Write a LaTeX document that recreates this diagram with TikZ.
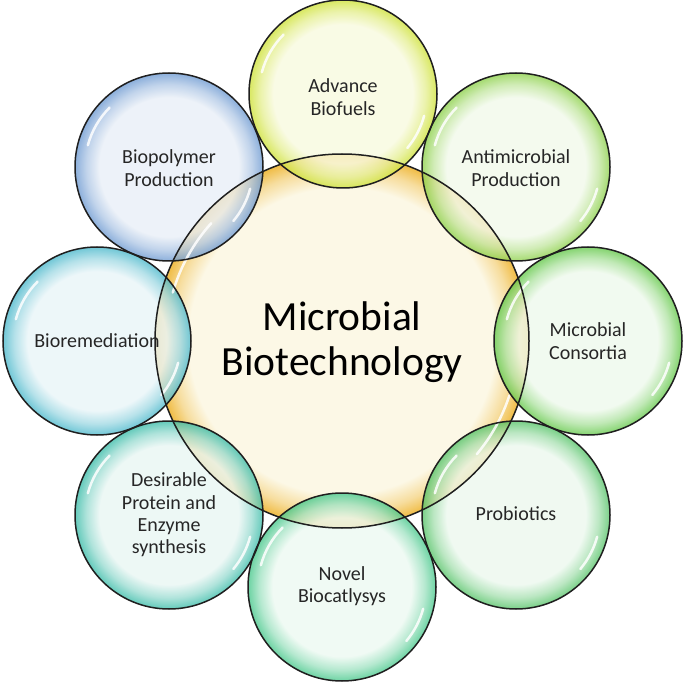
\documentclass[tikz,border=0pt]{standalone}
\usepackage{fontspec}
\setmainfont{Carlito}
\definecolor{cCin}{HTML}{FCF8E6}\definecolor{cCout}{HTML}{F0BC45}
\definecolor{cAin}{HTML}{F8FADF}\definecolor{cAout}{HTML}{CFE23A}
\definecolor{cBin}{HTML}{F1F9EA}\definecolor{cBout}{HTML}{8ED14C}
\definecolor{cDin}{HTML}{EEF9EC}\definecolor{cDout}{HTML}{66C94C}
\definecolor{cEin}{HTML}{ECF8EE}\definecolor{cEout}{HTML}{58C46A}
\definecolor{cFin}{HTML}{ECF9F1}\definecolor{cFout}{HTML}{48C88C}
\definecolor{cGin}{HTML}{E9F6F3}\definecolor{cGout}{HTML}{3DBDAA}
\definecolor{cHin}{HTML}{E9F5F8}\definecolor{cHout}{HTML}{4DB9CC}
\definecolor{cIin}{HTML}{E9EFF7}\definecolor{cIout}{HTML}{6F9BD2}
\newcommand\mkbub[3]{\pgfdeclareradialshading{#1}{\pgfpointorigin}{color(0bp)=(#2); color(18.5bp)=(#2); color(22bp)=(#2!55!#3); color(25bp)=(#3); color(50bp)=(#3)}}
\pgfdeclareradialshading{bubC}{\pgfpointorigin}{color(0bp)=(cCin); color(20.5bp)=(cCin); color(23bp)=(cCin!55!cCout); color(25bp)=(cCout); color(50bp)=(cCout)}
\mkbub{bubA}{cAin}{cAout}
\mkbub{bubB}{cBin}{cBout}
\mkbub{bubD}{cDin}{cDout}
\mkbub{bubE}{cEin}{cEout}
\mkbub{bubF}{cFin}{cFout}
\mkbub{bubG}{cGin}{cGout}
\mkbub{bubH}{cHin}{cHout}
\mkbub{bubI}{cIin}{cIout}
\tikzset{
  bubble/.style={circle, inner sep=0pt, minimum size=188pt, fill opacity=0.8, shading=#1},
  hub/.style={circle, inner sep=0pt, minimum size=374pt, shading=bubC},
  outl/.style={draw=black!88, line width=1.5pt},
  gloss/.style={draw=white, line width=2.5pt, line cap=round, opacity=0.85},
  lbl/.style={align=center, inner sep=0pt, text=black!85, font=\fontsize{20}{22.3}\selectfont},
  hublbl/.style={align=center, inner sep=0pt, text=black, font=\fontsize{41.5}{45}\selectfont}
}
\begin{document}
\begin{tikzpicture}[x=1pt,y=-1pt]
\useasboundingbox (0,0) rectangle (685,684);
\node[hub] (hub) at (342,341) {};
\node[bubble=bubA] (b1) at (343,94) {};
\node[bubble=bubB] (b2) at (516,167) {};
\node[bubble=bubD] (b3) at (588,341) {};
\node[bubble=bubE] (b4) at (516,515) {};
\node[bubble=bubF] (b5) at (342,587) {};
\node[bubble=bubG] (b6) at (169,515) {};
\node[bubble=bubH] (b7) at (97,341) {};
\node[bubble=bubI] (b8) at (169,167) {};
% glossy highlights
\draw[gloss] ([shift={(196:176)}]hub.center) arc[start angle=196, end angle=222, radius=176];
\draw[gloss] ([shift={(18:176)}]hub.center) arc[start angle=18, end angle=40, radius=176];
\foreach \n in {b1,b2,b3,b4,b5,b6,b7,b8}{
  \draw[gloss] ([shift={(195:84)}]\n.center) arc[start angle=195, end angle=225, radius=84];
  \draw[gloss] ([shift={(15:84)}]\n.center) arc[start angle=15, end angle=40, radius=84];
}
% outlines
\foreach \n in {hub}{\draw[outl] (\n.center) circle[radius=187];}
\foreach \n in {b1,b2,b3,b4,b5,b6,b7,b8}{\draw[outl] (\n.center) circle[radius=94];}
% labels
\node[hublbl] (thub) at ([yshift=-1.5]hub.center) {Microbial\\Biotechnology};
\node[lbl] (t1) at ([yshift=-3]b1.center) {Advance\\Biofuels};
\node[lbl] (t2) at ([yshift=-1]b2.center) {Antimicrobial\\Production};
\node[lbl] (t3) at ([yshift=0]b3.center) {Microbial\\Consortia};
\node[lbl] (t4) at ([yshift=1]b4.center) {Probiotics};
\node[lbl] (t5) at ([yshift=1]b5.center) {Novel\\Biocatlysys};
\node[lbl] (t6) at ([yshift=0]b6.center) {Desirable\\Protein and\\Enzyme\\synthesis};
\node[lbl] (t7) at ([yshift=0]b7.center) {Bioremediation};
\node[lbl] (t8) at ([yshift=-1]b8.center) {Biopolymer\\Production};
\end{tikzpicture}
\end{document}
